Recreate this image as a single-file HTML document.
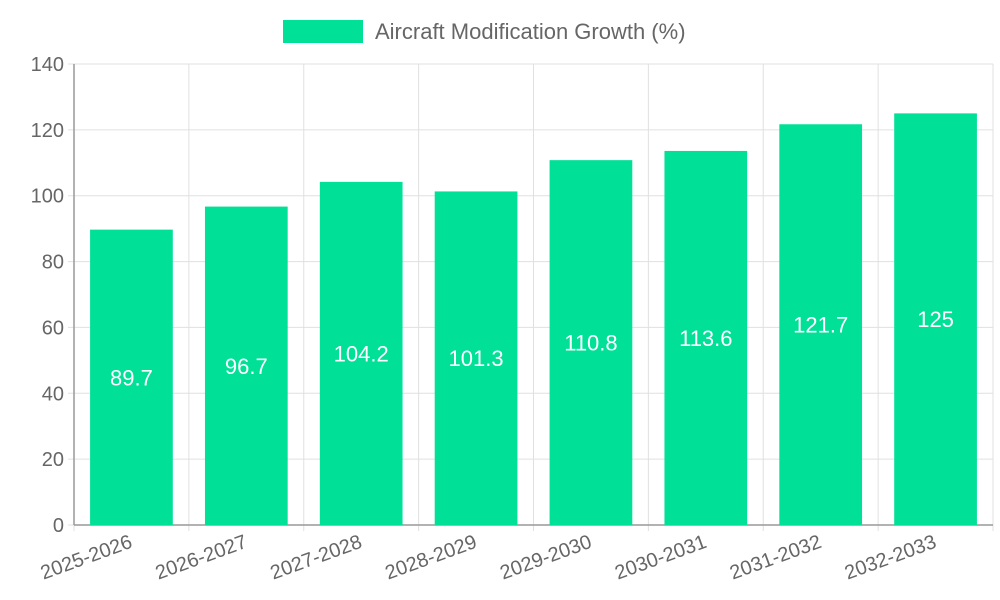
<!DOCTYPE html>
<html><head><meta charset="utf-8"><style>
html,body{margin:0;padding:0;background:#fff;}
svg{display:block;font-family:"Liberation Sans",sans-serif;}
</style></head><body>
<svg id="chart" width="1000" height="600"></svg>
<script>
const categories=["2025-2026","2026-2027","2027-2028","2028-2029","2029-2030","2030-2031","2031-2032","2032-2033"];
const values=[89.7,96.7,104.2,101.3,110.8,113.6,121.7,125];
const yTicks=[0,20,40,60,80,100,120,140];
const seriesName="Aircraft Modification Growth (%)";
const NS="http://www.w3.org/2000/svg";
const svg=document.getElementById("chart");
const L=74,R=993,T=64,B=525,yMax=140;
const bw=(R-L)/categories.length;
const y=v=>B-(v/yMax)*(B-T);
const xc=i=>L+bw*(i+0.5);
function mk(tag,attrs,parent){const e=document.createElementNS(NS,tag);for(const k in attrs)e.setAttribute(k,attrs[k]);(parent||svg).appendChild(e);return e;}
const grid=mk("g",{});


yTicks.forEach(t=>{
  mk("line",{x1:L-6,x2:R,y1:y(t),y2:y(t),stroke:"#e0e0e0","stroke-width":1},grid);
  const tx=mk("text",{x:L-10,y:y(t)+7,"text-anchor":"end","font-size":20,fill:"#666"});
  
  
  tx.textContent=t;
});
for(let i=0;i<=categories.length;i++){
  const x=L+bw*i;
  mk("line",{x1:x,x2:x,y1:T,y2:B+6,stroke:"#e0e0e0","stroke-width":1},grid);
}
mk("line",{x1:L,x2:L,y1:T,y2:B,stroke:"#999","stroke-width":1.5});
mk("line",{x1:L,x2:R,y1:B,y2:B,stroke:"#999","stroke-width":1.5});
categories.forEach((c,i)=>{
  const w=bw*0.72,x=xc(i)-w/2,top=y(values[i]);
  const r=mk("rect",{x:x,y:top,width:w,height:B-top,fill:"#00e096"});
  
  
  const t=mk("text",{x:xc(i),y:(top+B)/2+8,"text-anchor":"middle","font-size":22,fill:"#fff"});
  
  
  t.textContent=values[i];
  const lx=xc(i)+2,ly=B+22;
  const xl=mk("text",{x:lx,y:ly,"text-anchor":"end","font-size":20,fill:"#666",transform:`rotate(-20 ${lx} ${ly})`});
  
  
  xl.textContent=c;
});
const lg=mk("g",{});


mk("rect",{x:283,y:20,width:80,height:23,fill:"#00e096"},lg);
const lt=mk("text",{x:375,y:39,"font-size":22,fill:"#666"},lg);
lt.textContent=seriesName;
</script>
</body></html>
